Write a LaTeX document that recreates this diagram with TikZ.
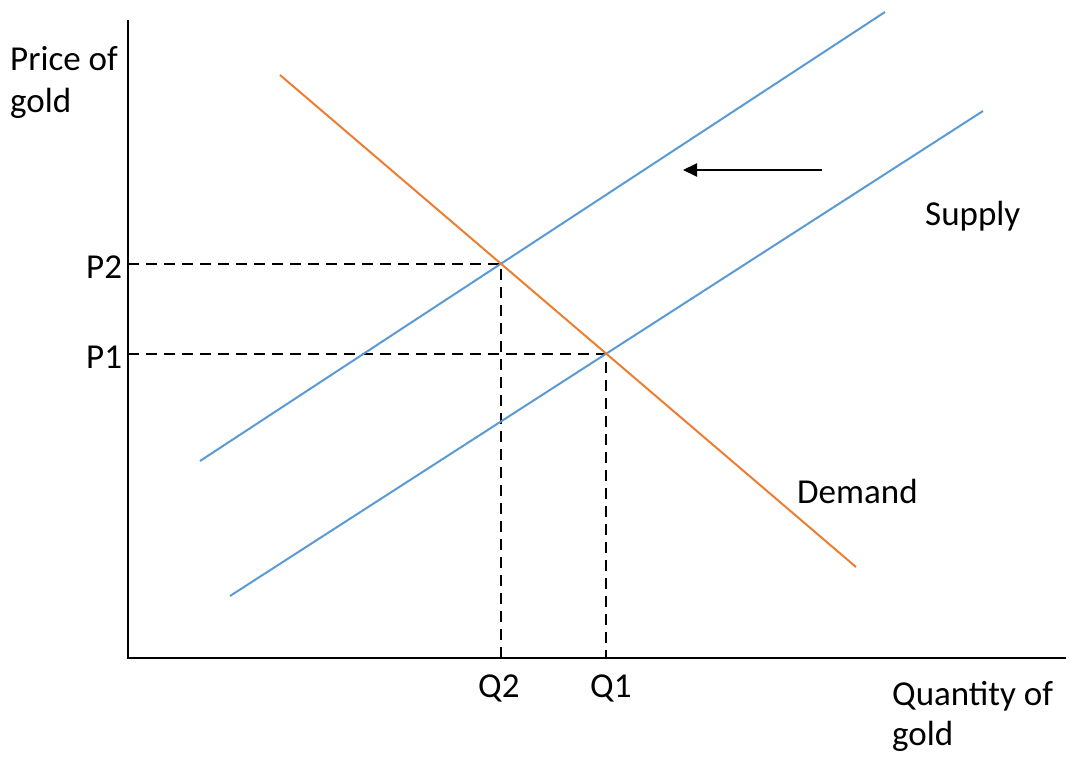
\documentclass[tikz,border=0pt]{standalone}
\usepackage{fontspec}
\setmainfont{Carlito}
\usetikzlibrary{arrows.meta}
\definecolor{supplyblue}{HTML}{5B9BD5}
\definecolor{demandorange}{HTML}{ED7D31}
\begin{document}
\begin{tikzpicture}[x=1pt,y=-1pt,
  lbl/.style={anchor=base west,inner sep=0pt,font=\fontsize{35}{42}\selectfont,align=left},
  axisline/.style={line width=2pt,black},
  supplyline/.style={line width=2pt,supplyblue},
  demandline/.style={line width=2pt,demandorange},
  guide/.style={line width=2pt,black,dash pattern=on 11pt off 7pt},
  shiftarrow/.style={line width=2pt,black,-{Triangle[length=14pt,width=13pt]}}]
\useasboundingbox (0,0) rectangle (1080,774);
% axes
\coordinate (ytop) at (128,20);
\coordinate (origin) at (128,658);
\coordinate (xend) at (1066,658);
\draw[axisline] (ytop) -- (origin) -- (xend);
% curve end points
\coordinate (s1a) at (200,461);
\coordinate (s1b) at (885,12);
\coordinate (s2a) at (230,596);
\coordinate (s2b) at (983,111);
\coordinate (da) at (280,75);
\coordinate (db) at (856,567);
% equilibria
\coordinate (e2) at (501,264);
\coordinate (e1) at (606,354);
\coordinate (p2) at (128,264);
\coordinate (p1) at (128,354);
\coordinate (q2) at (501,658);
\coordinate (q1) at (606,658);
% dashed guides
\draw[guide] (p2) -- (e2) -- (q2);
\draw[guide] (p1) -- (e1) -- (q1);
% curves
\draw[supplyline] (s1a) -- (s1b);
\draw[supplyline] (s2a) -- (s2b);
\draw[demandline] (da) -- (db);
% shift arrow
\coordinate (arrS) at (822,170);
\coordinate (arrE) at (683,170);
\draw[shiftarrow] (arrS) -- (arrE);
% labels
\node[lbl] (ylab) at (10,70) {Price of};
\node[lbl] (ylab2) at (10,112) {gold};
\node[lbl] (lp2) at (86,278) {P2};
\node[lbl] (lp1) at (86,368) {P1};
\node[lbl] (lq2) at (478,697) {Q2};
\node[lbl] (lq1) at (590,697) {Q1};
\node[lbl] (xlab) at (892,705) {Quantity of};
\node[lbl] (xlab2) at (892,745) {gold};
\node[lbl] (lsup) at (925,225) {Supply};
\node[lbl] (ldem) at (797,503) {Demand};
\end{tikzpicture}
\end{document}
